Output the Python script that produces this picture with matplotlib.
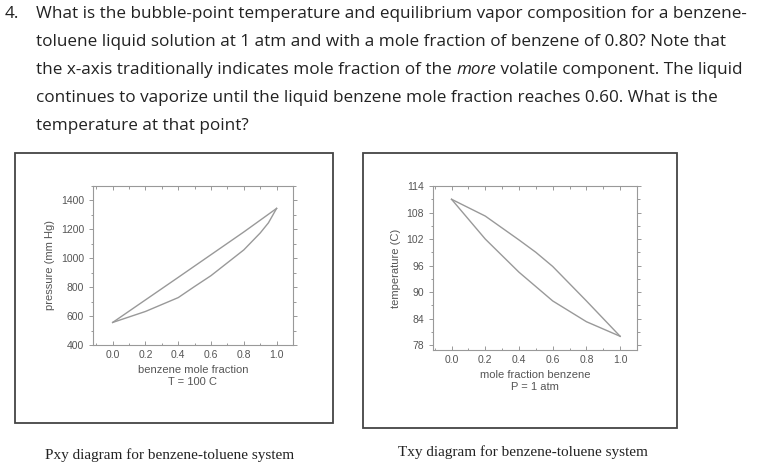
import matplotlib.pyplot as plt
from matplotlib.patches import Rectangle
from matplotlib.ticker import AutoMinorLocator

# Pxy data, T = 100 C
pxy_x = [0.0, 0.2, 0.4, 0.6, 0.8, 1.0]
pxy_bubble = [556, 712, 868, 1025, 1182, 1345]
pxy_dew_x = [0.0, 0.2, 0.4, 0.5, 0.6, 0.8, 0.9, 0.95, 1.0]
pxy_dew = [556, 632, 728, 805, 880, 1058, 1175, 1245, 1345]

# Txy data, P = 1 atm
txy_x = [0.0, 0.2, 0.4, 0.5, 0.6, 0.8, 1.0]
txy_upper = [111, 107.2, 101.8, 99.0, 95.8, 88.0, 80.0]
txy_lower_x = [0.0, 0.2, 0.4, 0.6, 0.8, 1.0]
txy_lower = [111, 102.0, 94.5, 88.0, 83.3, 80.0]

W, H = 758, 468
fig = plt.figure(figsize=(W / 100, H / 100), dpi=100)

def px(x0, y0, x1, y1):
    return [x0 / W, 1 - y1 / H, (x1 - x0) / W, (y1 - y0) / H]

qfont = dict(family=["Open Sans", "DejaVu Sans"], fontsize=12.3, color="#222222", va="center")
fig.text(5 / W, 1 - 14 / H, "4.", **qfont)
lines = [
    "What is the bubble-point temperature and equilibrium vapor composition for a benzene-",
    "toluene liquid solution at 1 atm and with a mole fraction of benzene of 0.80? Note that",
    None,
    "continues to vaporize until the liquid benzene mole fraction reaches 0.60. What is the",
    "temperature at that point?",
]
for i, s in enumerate(lines):
    if s is not None:
        fig.text(36 / W, 1 - (14 + 28 * i) / H, s, **qfont)

# line with italic "more"
y3 = 1 - (14 + 28 * 2) / H
fig.canvas.draw()
r = fig.canvas.get_renderer()
t1 = fig.text(36 / W, y3, "the x-axis traditionally indicates mole fraction of the ", **qfont)
x = t1.get_window_extent(r).x1 / W
t2 = fig.text(x, y3, "more", style="italic", **qfont)
x = t2.get_window_extent(r).x1 / W
fig.text(x, y3, " volatile component. The liquid", **qfont)

# frames
for (x0, y0, x1, y1) in [(15, 153, 333, 423), (363, 153, 677, 428)]:
    fig.patches.append(Rectangle((x0 / W, 1 - y1 / H), (x1 - x0) / W, (y1 - y0) / H,
                                 transform=fig.transFigure, fill=False,
                                 edgecolor="#444444", linewidth=1.3))

gray = "#999999"
tcol = "#555555"
afont = ["Liberation Sans", "DejaVu Sans"]

def style(ax):
    for s in ax.spines.values():
        s.set_color(gray)
        s.set_linewidth(0.8)
    ax.xaxis.set_minor_locator(AutoMinorLocator(2))
    ax.yaxis.set_minor_locator(AutoMinorLocator(2))
    ax.tick_params(which="both", direction="in", top=True, right=True, colors=gray,
                   labelcolor=tcol, labelsize=7.5, length=3, width=0.7)
    ax.tick_params(which="minor", length=1.8)
    ax.tick_params(axis="y", which="both", direction="out", left=True)
    for lab in ax.get_xticklabels() + ax.get_yticklabels():
        lab.set_family(afont)

ax1 = fig.add_axes(px(93, 186, 293, 345))
ax1.plot(pxy_x, pxy_bubble, color=gray, lw=1)
ax1.plot(pxy_dew_x, pxy_dew, color=gray, lw=1)
ax1.set_xlim(-0.12, 1.10)
ax1.set_ylim(400, 1500)
ax1.set_xticks([0, 0.2, 0.4, 0.6, 0.8, 1.0])
ax1.set_yticks([400, 600, 800, 1000, 1200, 1400])
ax1.set_xticklabels(["0.0", "0.2", "0.4", "0.6", "0.8", "1.0"])
style(ax1)
ax1.set_ylabel("pressure (mm Hg)", fontsize=8, color=tcol, family=afont)
ax1.set_xlabel("benzene mole fraction\nT = 100 C", fontsize=8, color=tcol,
               linespacing=1.2, family=afont)

ax2 = fig.add_axes(px(433, 186, 637, 350))
ax2.plot(txy_x, txy_upper, color=gray, lw=1)
ax2.plot(txy_lower_x, txy_lower, color=gray, lw=1)
ax2.set_xlim(-0.11, 1.10)
ax2.set_ylim(76.9, 114)
ax2.set_xticks([0, 0.2, 0.4, 0.6, 0.8, 1.0])
ax2.set_yticks([78, 84, 90, 96, 102, 108, 114])
ax2.set_xticklabels(["0.0", "0.2", "0.4", "0.6", "0.8", "1.0"])
style(ax2)
ax2.set_ylabel("temperature (C)", fontsize=8, color=tcol, family=afont)
ax2.set_xlabel("mole fraction benzene\nP = 1 atm", fontsize=8, color=tcol,
               linespacing=1.2, family=afont)

cfont = dict(family=["Liberation Serif", "DejaVu Serif"], fontsize=11, color="#222222",
             ha="center", va="center")
fig.text(170 / W, 1 - 455 / H, "Pxy diagram for benzene-toluene system", **cfont)
fig.text(523 / W, 1 - 452 / H, "Txy diagram for benzene-toluene system", **cfont)

fig.savefig("out.png", dpi=100)
